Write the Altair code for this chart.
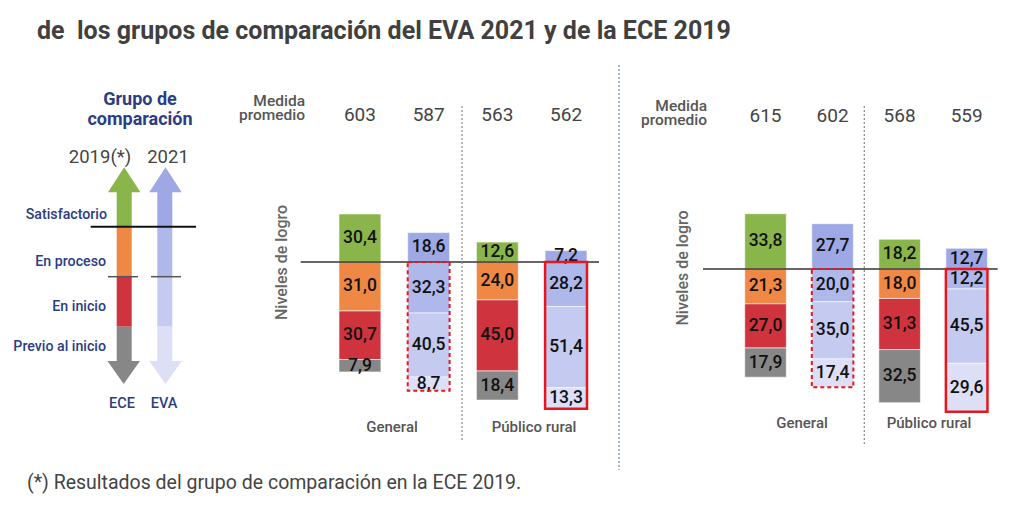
import altair as alt
import pandas as pd

# ---------------- data ----------------
bar_ids = ["ECE 2019 General", "EVA 2021 General", "ECE 2019 Público rural", "EVA 2021 Público rural"]
sources = ["ECE", "EVA", "ECE", "EVA"]
groups = ["General", "General", "Público rural", "Público rural"]
levels = ["Satisfactorio", "En proceso", "En inicio", "Previo al inicio"]

left_medida = [603, 587, 563, 562]
left_satisfactorio = [30.4, 18.6, 12.6, 7.2]
left_en_proceso = [31.0, 32.3, 24.0, 28.2]
left_en_inicio = [30.7, 40.5, 45.0, 51.4]
left_previo = [7.9, 8.7, 18.4, 13.3]

right_medida = [615, 602, 568, 559]
right_satisfactorio = [33.8, 27.7, 18.2, 12.7]
right_en_proceso = [21.3, 20.0, 18.0, 12.2]
right_en_inicio = [27.0, 35.0, 31.3, 45.5]
right_previo = [17.9, 17.4, 32.5, 29.6]

title_text = "de\u00a0 los grupos de comparación del EVA 2021 y de la ECE 2019"
footnote_text = "(*) Resultados del grupo de comparación en la ECE 2019."
medida_text = ["Medida", "promedio"]
legend_title = ["Grupo de", "comparación"]

# ---------------- styles ----------------
FONT = "Roboto"
NAVY = "#2B3D83"
GREY_TXT = "#444444"
color_domain = [f"{s}|{l}" for s in ["ECE", "EVA"] for l in levels]
color_range = ["#8AB54A", "#EF8844", "#CE333E", "#878787",
               "#9DA8E5", "#AFB8EB", "#C4CAF0", "#DCDFF6"]
color_scale = alt.Scale(domain=color_domain, range=color_range)
RED = "#E5161D"


def fmt(v):
    return f"{v:.1f}".replace(".", ",")


def segments(sat, proc, ini, prev):
    rows = []
    for i, b in enumerate(bar_ids):
        src = sources[i]
        rows.append(dict(bar=b, key=f"{src}|Satisfactorio", y0=0.0, y1=sat[i], v=sat[i]))
        top = 0.0
        for lev, arr in (("En proceso", proc), ("En inicio", ini), ("Previo al inicio", prev)):
            rows.append(dict(bar=b, key=f"{src}|{lev}", y0=top, y1=top - arr[i], v=arr[i]))
            top -= arr[i]
    df = pd.DataFrame(rows)
    df["mid"] = (df["y0"] + df["y1"]) / 2
    df["label"] = df["v"].map(fmt)
    return df


def outlines(proc, ini, prev):
    rows = []
    for i, b in enumerate(bar_ids):
        if sources[i] == "EVA":
            rows.append(dict(bar=b, y0=0.0, y1=-(proc[i] + ini[i] + prev[i]), grp=groups[i]))
    return pd.DataFrame(rows)


def panel(df, out, medida, ydom, xrange, pad, line_x, head):
    xs = alt.Scale(domain=bar_ids, range=xrange, paddingInner=pad, paddingOuter=pad / 2)
    ys = alt.Scale(domain=ydom, nice=False, zero=False)
    X = alt.X("bar:N", scale=xs, axis=None)
    base = alt.Chart(df)
    rect = base.mark_bar(stroke="white", strokeWidth=0.6).encode(
        x=X, y=alt.Y("y0:Q", scale=ys, axis=None), y2="y1:Q",
        color=alt.Color("key:N", scale=color_scale, legend=None))
    labels = base.mark_text(font=FONT, fontSize=17.5, fontWeight=500, color="#111111").encode(
        x=X, y=alt.Y("mid:Q", scale=ys, axis=None), text="label:N")
    dashed = alt.Chart(out[out["grp"] == "General"]).mark_bar(
        fillOpacity=0, stroke=RED, strokeWidth=2, strokeDash=[4, 3]).encode(
        x=X, y=alt.Y("y0:Q", scale=ys, axis=None), y2="y1:Q")
    solid = alt.Chart(out[out["grp"] != "General"]).mark_bar(
        fillOpacity=0, stroke=RED, strokeWidth=2.5).encode(
        x=X, y=alt.Y("y0:Q", scale=ys, axis=None), y2="y1:Q")
    hdr = alt.Chart(pd.DataFrame({"bar": bar_ids, "m": medida})).mark_text(
        font=FONT, fontSize=19, color=GREY_TXT, baseline="alphabetic").encode(
        x=X, y=alt.value(head), text="m:Q")
    baseline = alt.Chart(pd.DataFrame({"z": [0.0]})).mark_rule(color="#333333", strokeWidth=1.5).encode(
        y=alt.Y("z:Q", scale=ys, axis=None), x=alt.value(line_x[0]), x2=alt.value(line_x[1]))
    return alt.layer(rect, baseline, labels, dashed, solid, hdr)


left_df = segments(left_satisfactorio, left_en_proceso, left_en_inicio, left_previo)
right_df = segments(right_satisfactorio, right_en_proceso, right_en_inicio, right_previo)
left_out = outlines(left_en_proceso, left_en_inicio, left_previo)
right_out = outlines(right_en_proceso, right_en_inicio, right_previo)

# pixel geometry: baseline and px-per-percent for each panel (plot height 512)
H = 512
L_BASE, L_PX = 262.0, 1.58
R_BASE, R_PX = 269.0, 1.635
left_panel = panel(left_df, left_out, left_medida,
                   [-(H - L_BASE) / L_PX, L_BASE / L_PX], [325.6, 600.4], 0.39, (300.7, 599), 121)
right_panel = panel(right_df, right_out, right_medida,
                    [-(H - R_BASE) / R_PX, R_BASE / R_PX], [732.0, 1000.2], 0.38, (703, 997.7), 122.3)

dummy = pd.DataFrame({"a": [0]})


def txt(text, x, y, size, color=GREY_TXT, align="center", baseline="alphabetic", weight="normal",
        angle=0, line_height=None):
    kw = dict(font=FONT, fontSize=size, color=color, align=align, baseline=baseline,
              fontWeight=weight, text=text)
    if angle:
        kw["angle"] = angle
    if line_height:
        kw["lineHeight"] = line_height
    return alt.Chart(dummy).mark_text(**kw).encode(x=alt.value(x), y=alt.value(y))


def box(x1, x2, y1, y2, color):
    return alt.Chart(dummy).mark_rect(color=color).encode(
        x=alt.value(x1), x2=alt.value(x2), y=alt.value(y1), y2=alt.value(y2))


def hline(x1, x2, y, color, w, dash=None):
    kw = dict(color=color, strokeWidth=w)
    if dash:
        kw["strokeDash"] = dash
    return alt.Chart(dummy).mark_rule(**kw).encode(x=alt.value(x1), x2=alt.value(x2), y=alt.value(y))


def vline(x, y1, y2, color, w, dash=None):
    kw = dict(color=color, strokeWidth=w)
    if dash:
        kw["strokeDash"] = dash
    return alt.Chart(dummy).mark_rule(**kw).encode(x=alt.value(x), y=alt.value(y1), y2=alt.value(y2))


def head(x, y, shape, size, color):
    return alt.Chart(dummy).mark_point(shape=shape, size=size, filled=True, color=color,
                                       opacity=1, strokeWidth=0).encode(x=alt.value(x), y=alt.value(y))


UP = "M-1,0.77L0,-0.77L1,0.77Z"
DOWN = "M-1,-0.71L0,0.71L1,-0.71Z"

deco = []
# legend arrows (ECE)
Y_PRO, Y_INI, Y_PRE_END = 226.7, 276.7, 326.7
deco += [box(116.7, 131.7, 191.5, Y_PRO, color_range[0]),
         box(116.7, 131.7, Y_PRO, Y_INI, color_range[1]),
         box(116.7, 131.7, Y_INI, Y_PRE_END, color_range[2]),
         box(116.7, 131.7, Y_PRE_END, 361.8, color_range[3]),
         head(124.2, 179.8, UP, 1056, color_range[0]),
         head(123.7, 372.5, DOWN, 1056, color_range[3])]
# legend arrows (EVA)
deco += [box(157.3, 172.3, 191.5, Y_PRO, color_range[4]),
         box(157.3, 172.3, Y_PRO, Y_INI, color_range[5]),
         box(157.3, 172.3, Y_INI, Y_PRE_END, color_range[6]),
         box(157.3, 172.3, Y_PRE_END, 361.8, color_range[7]),
         head(165.5, 179.8, UP, 1056, color_range[4]),
         head(165.5, 372.5, DOWN, 1056, color_range[7])]
deco += [hline(90.7, 196, Y_PRO, "#111111", 2),
         hline(108, 138, Y_INI, "#555555", 1.5),
         hline(151, 181, Y_INI, "#555555", 1.5)]
deco += [txt(legend_title, 140, 104.5, 18, NAVY, weight="bold", line_height=20),
         txt("2019(*)", 100, 162.5, 18.5),
         txt("2021", 168, 162.5, 18.5),
         txt("Satisfactorio", 107, 219.3, 14.2, NAVY, align="right", weight=500),
         txt("En proceso", 106, 265.7, 14.2, NAVY, align="right", weight=500),
         txt("En inicio", 106, 310.7, 14.2, NAVY, align="right", weight=500),
         txt("Previo al inicio", 106, 350.7, 14.2, NAVY, align="right", weight=500),
         txt("ECE", 122, 408.3, 14.5, NAVY, weight=500),
         txt("EVA", 164, 408.3, 14.5, NAVY, weight=500)]

# panel dividers
deco += [vline(462, 106, 440, "#888888", 1.2, [2, 2]),
         vline(864.3, 106, 444, "#888888", 1.2, [2, 2]),
         vline(619, 65, 470, "#8FA3DD", 1.6, [2, 2])]

# panel annotations
deco += [txt(medida_text, 305, 106.3, 15.5, "#555555", align="right", weight=500, line_height=13.5),
         txt(medida_text, 707, 110.7, 15.5, "#555555", align="right", weight=500, line_height=14),
         txt("Niveles de logro", 282, 262.5, 16, "#666666", baseline="middle", angle=270, weight=500),
         txt("Niveles de logro", 683, 268, 16, "#666666", baseline="middle", angle=270, weight=500),
         txt("General", 392, 431.7, 15, "#555555", weight=500),
         txt("Público rural", 534, 431.7, 15, "#555555", weight=500),
         txt("General", 802, 428, 15, "#555555", weight=500),
         txt("Público rural", 929, 428, 15, "#555555", weight=500)]

# title & footnote
deco += [txt(title_text, 37, 39, 25, "#404040", align="left", weight="bold"),
         txt(footnote_text, 27, 489, 19.5, GREY_TXT, align="left")]

chart = alt.layer(left_panel, right_panel, *deco).resolve_scale(
    x="independent", y="independent"
).properties(
    width=1024, height=512, padding=0,
    autosize=alt.AutoSizeParams(type="none"),
    background="white",
).configure_view(stroke=None)

chart.save("out.html", embed_options={"renderer": "svg", "actions": False})
